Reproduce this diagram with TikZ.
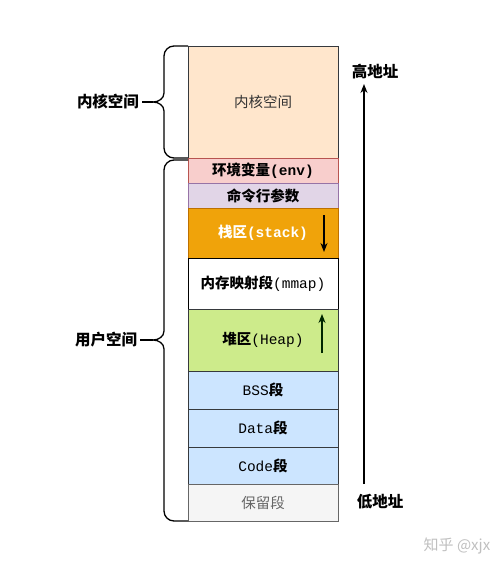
\documentclass[tikz,border=0pt]{standalone}
\usepackage{fontspec}
\setmainfont{Noto Sans CJK SC}
\setmonofont{Liberation Mono}
\usetikzlibrary{positioning,arrows.meta}
\definecolor{kernfill}{HTML}{FFE6CC}
\definecolor{envfill}{HTML}{F8CECC}
\definecolor{envline}{HTML}{B85450}
\definecolor{cmdfill}{HTML}{E1D5E7}
\definecolor{cmdline}{HTML}{9673A6}
\definecolor{stackfill}{HTML}{F0A30A}
\definecolor{stackline}{HTML}{BD7000}
\definecolor{heapfill}{HTML}{CDEB8B}
\definecolor{segfill}{HTML}{CCE5FF}
\definecolor{resvfill}{HTML}{F5F5F5}
\definecolor{darkline}{HTML}{36393D}
\definecolor{greytext}{HTML}{666666}

\begin{document}
\begin{tikzpicture}[x=1pt,y=-1pt,
	seg/.style={draw=darkline,line width=1pt,minimum width=150pt,inner sep=0pt,outer sep=0pt,
		font=\bfseries\fontsize{14.5}{16}\selectfont},
	lab/.style={inner sep=0pt,font=\bfseries\fontsize{15.5}{17}\selectfont},
	brc/.style={line width=1.3pt},
	growarrow/.style={line width=1.3pt,-{Stealth[length=9pt,width=7pt]}}]
	
	\useasboundingbox (0,0) rectangle (501,574);
	
	\node[seg,fill=kernfill,minimum height=112pt,font=\fontsize{14.5}{16}\selectfont,text=black!80] (kern) at (263,102) {内核空间};
	\node[seg,draw=envline,fill=envfill,minimum height=25pt,below=0pt of kern] (env) {环境变量\texttt{(env)}};
	\node[seg,draw=cmdline,fill=cmdfill,minimum height=25pt,below=0pt of env] (cmd) {命令行参数};
	\node[seg,draw=stackline,fill=stackfill,minimum height=50pt,text=white,below=0pt of cmd] (stack) {栈区\texttt{(stack)}};
	\node[seg,draw=black,fill=white,minimum height=51pt,below=0pt of stack] (mmap) {内存映射段\texttt{\mdseries(mmap)}};
	\node[seg,fill=heapfill,minimum height=62pt,below=0pt of mmap] (heap) {堆区\texttt{\mdseries(Heap)}};
	\node[seg,fill=segfill,minimum height=38pt,below=0pt of heap] (bss) {\texttt{\mdseries BSS}段};
	\node[seg,fill=segfill,minimum height=38pt,below=0pt of bss] (data) {\texttt{\mdseries Data}段};
	\node[seg,fill=segfill,minimum height=37pt,below=0pt of data] (code) {\texttt{\mdseries Code}段};
	\node[seg,draw=greytext,fill=resvfill,minimum height=37pt,text=greytext,
		font=\fontsize{14.5}{16}\selectfont,below=0pt of code] (resv) {保留段};
	
	\coordinate (stacktop) at (324,215);
	\coordinate (stackbot) at (324,252);
	\draw[growarrow] (stacktop) -- (stackbot);
	\coordinate (heapbot) at (322,353);
	\coordinate (heaptop) at (322,314);
	\draw[growarrow,draw=black!85!green] (heapbot) -- (heaptop);
	
	\coordinate (ktip) at (153,102);
	\draw[brc] (kern.north west) -- (174,46) to[out=180,in=90] (164,56) -- (164,93)
		to[out=-90,in=0] (ktip) to[out=0,in=90] (164,111) -- (164,148)
		to[out=-90,in=180] (174,158) -- (kern.south west);
	\node[lab] (klab) at (108,102) {内核空间};
	\draw[brc] ([xshift=3pt]klab.east) -- (ktip);
	
	\coordinate (utip) at (153,340);
	\draw[brc] (188,160) -- (174,160) to[out=180,in=90] (164,170) -- (164,331)
		to[out=-90,in=0] (utip) to[out=0,in=90] (164,349) -- (164,511)
		to[out=-90,in=180] (174,521) -- (resv.south west);
	\node[lab] (ulab) at (106,340) {用户空间};
	\draw[brc] ([xshift=3pt]ulab.east) -- (utip);
	
	\node[lab] (high) at (375,72) {高地址};
	\node[lab] (low) at (380,502) {低地址};
	\coordinate (addrlo) at (364,484);
	\coordinate (addrhi) at (364,84);
	\draw[growarrow] (addrlo) -- (addrhi);
	
	\node[inner sep=0pt,text=black!25,font=\fontsize{15}{17}\selectfont] (mark) at (457,546) {知乎 @xjx};
	
\end{tikzpicture}
\end{document}
